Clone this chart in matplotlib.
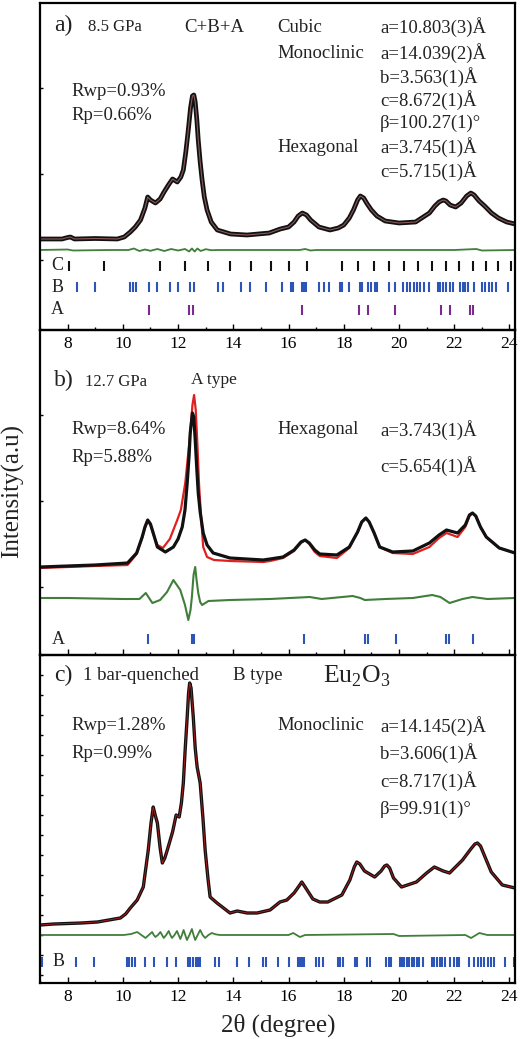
import matplotlib
matplotlib.use("Agg")
import matplotlib.pyplot as plt
from matplotlib.ticker import MultipleLocator

plt.rcParams["font.family"] = ["Liberation Serif", "DejaVu Serif"]
plt.rcParams["mathtext.fontset"] = "custom"
plt.rcParams["mathtext.rm"] = "Liberation Serif"

# ---------------- panel a) 8.5 GPa ----------------
a_tth = [7.0, 7.8, 8.0, 8.1, 8.25, 9.0, 9.8, 10.05, 10.27, 10.45, 10.64, 10.8, 10.9,
         11.0, 11.18, 11.35, 11.47, 11.65, 11.8, 11.97, 12.1, 12.19, 12.28, 12.37,
         12.45, 12.52, 12.57, 12.62, 12.68, 12.73, 12.8, 12.87, 12.95, 13.05, 13.2,
         13.42, 13.9, 14.5, 15.3, 15.7, 16.0, 16.2, 16.35, 16.5, 16.65, 16.8, 17.1,
         17.5, 17.8, 18.0, 18.2, 18.35, 18.5, 18.6, 18.72, 18.85, 19.0, 19.2, 19.5,
         20.0, 20.6, 21.1, 21.3, 21.45, 21.6, 21.7, 21.85, 22.05, 22.25, 22.45, 22.6,
         22.72, 22.9, 23.1, 23.35, 23.6, 23.9, 24.2]
a_obs = [91, 91, 92.5, 93, 91, 91.5, 91, 93, 98, 103, 110, 122, 133,
         130, 127, 131, 137, 145, 151, 148, 153, 160, 178, 200,
         222, 234, 235, 228, 210, 190, 168, 150, 133, 120, 108,
         100, 96, 95, 97, 101, 103, 108, 114, 117, 115, 110, 103,
         100, 102, 105, 112, 120, 130, 134, 132, 126, 120, 114, 109,
         107, 108, 117, 124, 128, 130, 129, 125, 123, 127, 134, 137,
         135, 129, 124, 117, 112, 108, 106]
a_calc = a_obs  # calculated profile coincides with the observed one

a_diff_tth = [7.0, 8.0, 8.2, 9.5, 10.2, 10.4, 10.6, 10.8, 11.0, 11.25, 11.5, 11.75,
              12.0, 12.25, 12.4, 12.5, 12.6, 12.7, 12.82, 13.0, 13.2, 13.5, 16.4,
              16.6, 16.8, 17.0, 22.0, 22.8, 23.0, 24.2]
a_diff = [80, 80.5, 79.5, 80, 80, 81.5, 79, 80.5, 79.2, 81, 79, 81,
          79.5, 81, 78.5, 81.5, 78.5, 81.5, 79, 80.8, 79.8, 80, 80,
          81, 79.5, 80, 80, 81, 79.5, 80]

a_refl_C = [8.05, 9.31, 11.36, 12.26, 13.10, 13.88, 14.63, 15.35, 16.03, 16.68,
            17.92, 18.52, 19.08, 19.64, 20.17, 20.68, 21.2, 21.71, 22.19, 22.67,
            23.15, 23.6, 24.05]
a_refl_B = [8.35, 8.99, 10.27, 10.37, 10.49, 10.94, 11.24, 11.72, 12.0, 12.44,
            12.56, 13.46, 13.62, 14.27, 14.61, 15.17, 15.75, 16.09, 16.17, 16.47,
            16.57, 16.65, 17.11, 17.28, 17.46, 17.86, 17.95, 18.19, 18.58, 18.66,
            18.88, 19.0, 19.12, 19.22, 19.64, 19.84, 20.14, 20.29, 20.41, 20.53,
            20.65, 20.77, 20.92, 21.08, 21.40, 21.49, 21.58, 21.71, 21.83, 21.97,
            22.21, 22.31, 22.40, 22.49, 22.73, 23.01, 23.13, 23.25, 23.37, 23.51,
            23.96]
a_refl_A = [10.94, 12.38, 12.54, 16.47, 18.55, 18.88, 19.86, 21.53, 21.83, 22.57,
            22.67]

# ---------------- panel b) 12.7 GPa ----------------
b_tth = [7.0, 8.0, 9.0, 10.17, 10.5, 10.7, 10.8, 10.9, 11.0, 11.1, 11.25, 11.54,
         11.83, 12.0, 12.15, 12.25, 12.33, 12.4, 12.44, 12.52, 12.57, 12.62, 12.68,
         12.73, 12.8, 12.91, 13.05, 13.27, 13.88, 15.08, 15.33, 15.8, 16.2, 16.45,
         16.6, 16.75, 16.95, 17.13, 17.75, 18.2, 18.5, 18.65, 18.8, 18.92, 19.1,
         19.3, 19.77, 20.5, 21.1, 21.45, 21.72, 22.12, 22.4, 22.55, 22.66, 22.78,
         22.95, 23.16, 23.63, 24.2]
b_obs = [88, 89, 90, 92, 102, 118, 128, 135, 131, 122, 108, 103,
         108, 116, 128, 145, 172, 200, 222, 242, 238, 215, 185,
         162, 143, 122, 110, 102, 97, 95, 96, 98, 105, 113,
         115, 112, 105, 101, 100, 108, 123, 133, 137, 133, 122,
         108, 103, 104, 112, 120, 125, 122, 130, 140, 142, 139,
         128, 118, 107, 102]
b_calc_tth = [7.0, 8.0, 9.0, 10.17, 10.5, 10.7, 10.8, 10.9, 11.0, 11.1, 11.25,
              11.45, 11.7, 11.97, 12.1, 12.26, 12.38, 12.44, 12.52, 12.58, 12.64,
              12.7, 12.76, 12.84, 12.91, 13.05, 13.3, 13.9, 15.08, 15.33, 15.8,
              16.2, 16.45, 16.6, 16.75, 16.95, 17.13, 17.75, 18.2, 18.5, 18.65,
              18.8, 18.92, 19.1, 19.3, 19.77, 20.5, 21.1, 21.45, 21.72, 22.12,
              22.4, 22.55, 22.66, 22.78, 22.95, 23.16, 23.63, 24.2]
b_calc = [87, 88, 89, 90, 101, 117, 127, 134, 130, 121, 110,
          107, 116, 135, 145, 172, 205, 222, 250, 260, 245,
          210, 170, 135, 108, 98, 95, 94, 93, 94, 97,
          104, 112, 115, 111, 103, 99, 97, 107, 123, 133,
          137, 133, 122, 108, 102, 101, 108, 117, 122, 118,
          128, 139, 142, 139, 128, 118, 107, 102]
b_diff_tth = [7.0, 8.0, 10.0, 10.6, 10.83, 11.07, 11.35, 11.6, 11.83, 12.08, 12.25,
              12.37, 12.45, 12.5, 12.56, 12.62, 12.67, 12.73, 12.8, 12.87, 13.1,
              13.88, 15.33, 16.77, 17.2, 18.32, 18.6, 18.76, 19.5, 20.5, 21.2,
              21.5, 21.83, 22.3, 22.66, 23.2, 24.2]
b_diff = [57, 57, 56, 56, 62, 52, 55, 63, 75, 65, 50,
          35, 45, 58, 80, 88, 75, 62, 53, 50, 54,
          55, 56, 58, 56, 59, 57, 55, 56, 57, 60,
          58, 52, 56, 58, 56, 57]
b_refl_A = [10.91, 12.52, 12.58, 16.57, 18.76, 18.88, 19.88, 21.71, 21.80, 22.67]

# ---------------- panel c) 1 bar-quenched ----------------
c_tth = [7.0, 7.5, 8.5, 9.08, 9.91, 10.1, 10.27, 10.52, 10.74, 10.92, 11.02, 11.1,
         11.17, 11.25, 11.35, 11.43, 11.52, 11.61, 11.8, 11.93, 12.04, 12.12, 12.19,
         12.26, 12.33, 12.38, 12.42, 12.47, 12.55, 12.62, 12.69, 12.8, 12.9, 12.98,
         13.08, 13.16, 13.41, 13.88, 14.14, 14.5, 14.86, 15.33, 15.69, 15.94, 16.2,
         16.38, 16.48, 16.6, 16.88, 17.13, 17.42, 17.93, 18.22, 18.38, 18.47, 18.58,
         18.75, 19.12, 19.35, 19.48, 19.56, 19.66, 19.8, 20.09, 20.63, 21.0, 21.28,
         21.6, 21.83, 22.3, 22.6, 22.75, 22.84, 22.95, 23.1, 23.34, 23.74, 24.2]
c_obs = [58, 59, 60, 61, 65, 69, 75, 83, 96, 133, 160, 176,
         168, 160, 135, 120, 125, 133, 151, 168, 166, 180, 200,
         235, 266, 290, 300, 295, 266, 235, 216, 200, 165, 133,
         105, 86, 80, 70, 72, 70, 70, 73, 81, 83, 90,
         97, 101, 96, 84, 81, 81, 88, 103, 116, 121, 119,
         112, 106, 112, 117, 118, 115, 105, 96, 101, 110, 116,
         112, 110, 123, 134, 139, 140, 137, 127, 111, 98, 95]
c_calc = c_obs  # calculated profile coincides with the observed one
c_diff_tth = [7.0, 9.0, 10.03, 10.3, 10.52, 10.67, 10.82, 10.94, 11.06, 11.12,
              11.18, 11.27, 11.36, 11.42, 11.48, 11.57, 11.66, 11.72, 11.78, 11.87,
              11.96, 12.02, 12.08, 12.14, 12.2, 12.26, 12.32, 12.41, 12.5, 12.56,
              12.62, 12.71, 12.8, 12.89, 12.98, 13.1, 13.22, 13.37, 13.52, 16.0,
              16.17, 16.41, 16.6, 19.8, 20.0, 22.4, 22.61, 22.91, 23.2, 24.2]
c_diff = [48, 48, 48, 49, 51, 48, 45, 48, 51, 48,
          46, 48, 51, 48, 45, 48, 52, 48, 45, 48,
          52, 48, 44, 48, 53, 48, 43, 48, 54, 48,
          43, 48, 53, 48, 45, 48, 50, 48.6, 48, 48,
          50, 46, 48, 49, 47, 48, 45, 50, 48, 48]
c_refl_B = [7.09, 8.29, 8.95, 10.15, 10.24, 10.34, 10.44, 10.82, 11.12, 11.6,
            11.92, 12.36, 12.44, 12.54, 12.64, 12.73, 12.8, 13.34, 13.48, 14.13,
            14.58, 15.06, 15.18, 15.6, 16.01, 16.33, 16.41, 16.5, 16.57, 16.99,
            17.09, 17.25, 17.79, 17.87, 17.98, 18.4, 18.49, 18.84, 18.94, 19.54,
            19.63, 19.72, 20.02, 20.1, 20.19, 20.28, 20.37, 20.46, 20.56, 20.65,
            20.74, 20.86, 21.2, 21.28, 21.37, 21.47, 21.57, 21.66, 21.83, 22.0,
            22.09, 22.19, 22.55, 22.73, 22.85, 22.97, 23.09, 23.21, 23.33, 23.43,
            23.85, 24.17]

xticks = [8, 10, 12, 14, 16, 18, 20, 22, 24]

BLACK = "#111111"
RED = "#e02020"
GREEN = "#3f7f3a"
BLUE = "#2d55b8"
PURPLE = "#7a2c8c"

W, H = 520, 1039
fig = plt.figure(figsize=(W / 100, H / 100), dpi=100)


def make_ax(top, bottom):
    ax = fig.add_axes([40 / W, 1 - bottom / H, 475 / W, (bottom - top) / H])
    ax.patch.set_visible(False)
    ax.set_xlim(7.0, 24.2)
    ax.set_ylim(0, bottom - top)
    for s in ax.spines.values():
        s.set_linewidth(1.6)
    ax.xaxis.set_major_locator(MultipleLocator(2))
    ax.xaxis.set_minor_locator(MultipleLocator(1))
    ax.tick_params(axis="x", which="major", direction="in", length=4, width=1,
                   labelsize=12.5, pad=4, top=False)
    ax.tick_params(axis="x", which="minor", direction="in", length=2.5, width=1,
                   top=False)
    ax.tick_params(axis="y", which="both", direction="in", length=2.5, width=1,
                   labelleft=False, right=False)
    ax.set_xticks(xticks)
    return ax


def txt(x, y, s, size=13.5, **kw):
    fig.text(x / W, 1 - y / H, s, fontsize=size, va="center", ha="left",
             color="#222222", **kw)


def refl(ax, pos, row, color):
    ax.plot(pos, [row] * len(pos), linestyle="none", marker="|", ms=7.5,
            mew=1.5, color=color)


# panel a: observed points drawn as a hollow thick trace
ax_a = make_ax(3, 330)
ax_a.yaxis.set_major_locator(MultipleLocator(86, offset=70))
ax_a.plot(a_tth, a_obs, color=BLACK, lw=3.4, solid_joinstyle="round")
ax_a.plot(a_tth, a_calc, color="#8a5a5a", lw=0.8)
ax_a.plot(a_diff_tth, a_diff, color=GREEN, lw=1.3)
refl(ax_a, a_refl_C, 64, BLACK)
refl(ax_a, a_refl_B, 43, BLUE)
refl(ax_a, a_refl_A, 20, PURPLE)
for lab, row in [("C", 64), ("B", 43), ("A", 20)]:
    ax_a.text(7.62, row, lab, fontsize=13, ha="center", va="center", color="#222222")

# panel b
ax_b = make_ax(330, 655)
ax_b.yaxis.set_major_locator(MultipleLocator(86, offset=68))
ax_b.tick_params(axis="x", labelbottom=False)
ax_b.plot(b_calc_tth, b_calc, color=RED, lw=1.6, solid_joinstyle="round")
ax_b.plot(b_tth, b_obs, color=BLACK, lw=2.3, solid_joinstyle="round")
ax_b.plot(b_diff_tth, b_diff, color=GREEN, lw=1.5)
refl(ax_b, b_refl_A, 16, BLUE)
ax_b.text(7.66, 16, "A", fontsize=13, ha="center", va="center", color="#222222")

# panel c
ax_c = make_ax(655, 983)
ax_c.yaxis.set_major_locator(MultipleLocator(40, offset=8))
ax_c.yaxis.set_minor_locator(MultipleLocator(20, offset=8))
ax_c.plot(c_tth, c_obs, color=BLACK, lw=2.4, solid_joinstyle="round")
ax_c.plot(c_tth, c_calc, color=RED, lw=0.6, alpha=0.8)
ax_c.plot(c_diff_tth, c_diff, color=GREEN, lw=1.3)
refl(ax_c, c_refl_B, 21, BLUE)
ax_c.text(7.66, 21, "B", fontsize=13, ha="center", va="center", color="#222222")

# annotations, panel a
txt(54, 25, "a)", size=17)
txt(88, 27, "8.5 GPa", size=12)
txt(184, 27, "C+B+A")
txt(277, 27, "Cubic")
txt(380, 27, "a=10.803(3)Å")
txt(277, 53, "Monoclinic")
txt(380, 53, "a=14.039(2)Å")
txt(380, 77, "b=3.563(1)Å")
txt(380, 100, "c=8.672(1)Å")
txt(380, 123, "β=100.27(1)°")
txt(277, 147, "Hexagonal")
txt(380, 147, "a=3.745(1)Å")
txt(380, 171, "c=5.715(1)Å")
txt(71, 92, "Rwp=0.93%")
txt(71, 115, "Rp=0.66%")

# annotations, panel b
txt(54, 380, "b)", size=17)
txt(85, 382, "12.7 GPa", size=12)
txt(191, 380, "A type", size=12.5)
txt(71, 430, "Rwp=8.64%")
txt(71, 457, "Rp=5.88%")
txt(277, 430, "Hexagonal")
txt(380, 430, "a=3.743(1)Å")
txt(380, 466, "c=5.654(1)Å")

# annotations, panel c
txt(54, 675, "c)", size=17)
txt(83, 676, "1 bar-quenched")
txt(233, 676, "B type")
txt(323, 676, r"Eu$_\mathrm{2}$O$_\mathrm{3}$", size=18.5)
txt(71, 726, "Rwp=1.28%")
txt(71, 753, "Rp=0.99%")
txt(277, 726, "Monoclinic")
txt(380, 726, "a=14.145(2)Å")
txt(380, 753, "b=3.606(1)Å")
txt(380, 781, "c=8.717(1)Å")
txt(380, 809, "β=99.91(1)°")

fig.text(13 / W, 1 - 491 / H, "Intensity(a.u)", rotation=90, fontsize=18,
         ha="center", va="center", color="#222222")
fig.text(278 / W, 1 - 1025 / H, "2θ (degree)", fontsize=18, ha="center",
         va="center", color="#222222")

fig.savefig("out.png", dpi=100)
